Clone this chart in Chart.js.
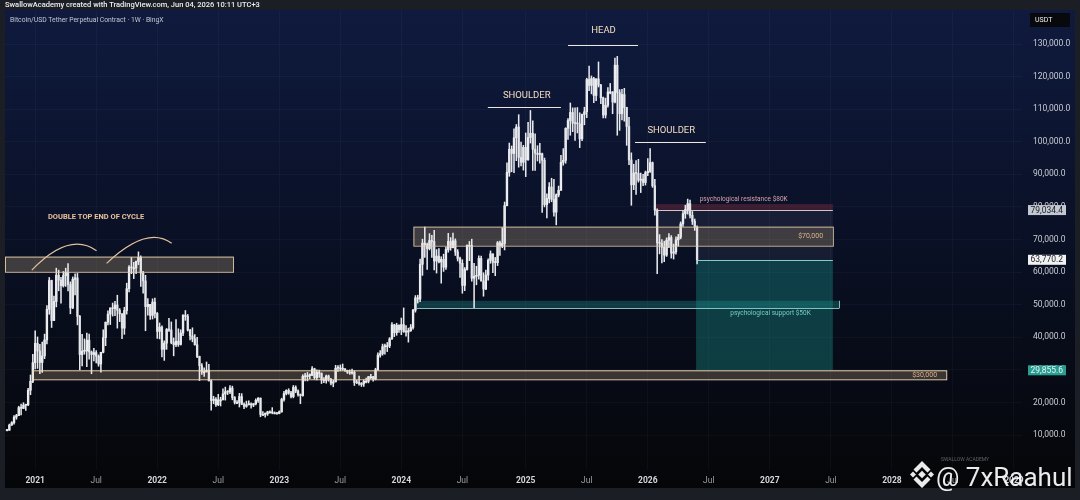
<!DOCTYPE html>
<html lang="en">
<head>
<meta charset="UTF-8">
<title>BTCUSDT Perpetual 1W - Head and Shoulders</title>
<script src="https://cdn.jsdelivr.net/npm/chart.js"></script>
<style>
    html, body { margin: 0; padding: 0; background: #1c1e25; overflow: hidden; }
    #wrap { width: 1080px; height: 500px; }
</style>
</head>
<body>
<div id="wrap"><canvas id="btcChart" width="1080" height="500"></canvas></div>
<script>
// Weekly candles (k USDT), first bar = week of 2020-10-12. Open of a bar = previous close.
const firstWeek = '2020-10-12';
const firstOpen = 11.36;

const weeklyClose = [
    11.50, 13.03, 13.76, 15.48, 15.96, 18.41, 18.18, 19.15, 19.27, 23.74, 26.49, 32.20,
    // 2021
    38.15, 35.79, 32.26, 34.26, 39.19, 48.58, 57.41, 45.14, 50.97, 59.03, 57.55, 55.84, 58.92,
    59.97, 56.15, 49.00, 57.80, 58.20, 46.40, 34.70, 35.70, 35.80, 39.10, 35.50, 34.70, 35.30,
    34.20, 31.80, 35.40, 39.90, 44.60, 47.10, 49.00, 48.80, 49.90, 48.30, 47.20, 42.80, 48.20,
    54.90, 61.50, 61.30, 61.30, 63.30, 64.50, 59.70, 57.30, 49.40, 50.10, 46.70, 50.80, 47.30,
    // 2022
    41.80, 43.10, 36.30, 38.20, 42.40, 42.20, 38.40, 37.70, 38.80, 37.80, 41.30, 46.80, 46.40,
    42.20, 40.40, 39.50, 37.70, 34.10, 31.30, 29.40, 29.40, 29.90, 26.60, 20.60, 21.00, 19.30,
    20.80, 20.80, 22.60, 23.30, 23.20, 24.40, 21.50, 20.00, 20.00, 21.80, 19.40, 18.80, 19.30,
    19.40, 19.20, 19.60, 20.60, 21.30, 16.30, 16.30, 16.50, 17.10, 17.10, 16.80, 16.80, 16.60,
    // 2023
    17.10, 20.90, 22.70, 23.70, 22.90, 21.80, 24.60, 23.50, 22.40, 22.10, 28.00, 27.90, 28.20,
    28.30, 30.30, 27.60, 29.20, 28.90, 26.90, 26.70, 28.10, 27.10, 25.90, 26.30, 30.50, 30.60,
    30.20, 30.30, 29.80, 29.30, 29.00, 29.30, 26.10, 26.00, 25.80, 25.80, 26.50, 26.50, 27.90,
    27.90, 27.20, 30.00, 34.50, 35.00, 37.10, 37.40, 37.40, 39.50, 43.80, 41.40, 43.70, 42.30,
    // 2024
    43.90, 41.70, 41.60, 42.00, 43.00, 48.30, 52.10, 51.70, 62.40, 68.90, 68.40, 67.20, 69.70,
    69.40, 63.40, 64.90, 63.10, 63.90, 61.50, 66.90, 69.40, 67.50, 69.60, 66.20, 64.20, 62.70,
    55.90, 60.80, 68.20, 68.20, 58.10, 58.70, 59.00, 64.20, 57.30, 54.80, 59.10, 63.60, 65.60,
    63.00, 62.90, 69.00, 68.00, 68.80, 80.40, 90.60, 97.70, 96.40, 101.20, 104.50, 95.20, 93.70, 98.30,
    // 2025
    94.50, 101.30, 102.60, 97.70, 96.50, 96.10, 96.30, 94.30, 80.70, 82.60, 86.10, 82.30, 78.40,
    83.70, 85.10, 93.70, 94.30, 104.10, 106.50, 109.00, 105.70, 105.60, 105.50, 100.90, 108.40, 109.20,
    119.10, 117.30, 119.40, 114.20, 119.30, 117.40, 113.50, 108.20, 111.20, 115.30, 115.30, 112.20, 123.50,
    115.10, 108.60, 114.50, 110.50, 104.70, 94.40, 86.80, 90.40, 90.30, 88.20, 88.50, 87.50, 90.50,
    // 2026
    90.90, 93.60, 86.50, 79.03, 69.00, 68.80, 67.60, 65.20, 69.80, 70.60, 65.80, 66.20, 69.90,
    70.70, 74.80, 77.90, 79.20, 81.00, 77.40, 75.60, 73.80, 63.77
];

const weeklyHigh = [
    11.72, 13.35, 14.09, 15.96, 16.34, 18.82, 19.50, 19.92, 19.42, 24.30, 28.42, 34.78,
    // 2021
    41.95, 40.10, 37.85, 38.53, 40.96, 49.71, 58.35, 57.53, 52.64, 61.20, 60.60, 58.40, 60.18,
    61.20, 62.60, 57.00, 58.50, 59.50, 59.60, 46.70, 40.90, 39.50, 41.30, 41.00, 35.80, 36.60,
    35.90, 34.60, 35.40, 42.30, 44.70, 48.10, 49.00, 50.50, 51.00, 52.90, 48.80, 47.30, 49.20,
    56.60, 62.00, 64.50, 63.00, 63.40, 66.20, 65.00, 60.20, 59.00, 51.90, 50.10, 51.80, 52.00,
    // 2022
    47.60, 44.40, 43.50, 38.90, 42.70, 45.80, 44.70, 39.80, 45.40, 42.60, 42.30, 46.90, 48.20,
    47.00, 42.40, 42.90, 40.80, 40.00, 34.20, 31.90, 30.60, 32.40, 31.70, 26.90, 21.90, 21.50,
    22.50, 21.60, 24.20, 24.70, 23.60, 25.20, 25.00, 21.80, 20.60, 22.80, 22.70, 19.90, 20.40,
    20.50, 19.90, 19.70, 21.10, 21.50, 21.40, 17.20, 16.80, 17.30, 17.40, 18.40, 17.10, 16.90,
    // 2023
    17.40, 21.30, 23.40, 23.90, 24.20, 23.40, 25.20, 25.10, 23.90, 22.60, 28.50, 28.90, 29.20,
    28.80, 31.00, 30.50, 30.00, 29.90, 29.10, 27.60, 28.40, 28.40, 27.40, 26.80, 31.40, 31.30,
    31.50, 31.80, 30.40, 29.90, 30.00, 30.20, 29.70, 26.80, 28.10, 26.10, 26.90, 27.50, 28.00,
    28.60, 28.00, 30.50, 35.20, 35.90, 37.90, 37.90, 38.40, 39.90, 44.50, 44.00, 44.30, 43.80,
    // 2024
    45.90, 49.00, 43.60, 42.80, 43.90, 48.60, 52.80, 52.90, 64.00, 70.10, 73.80, 68.90, 71.80,
    71.30, 72.80, 66.90, 67.20, 64.70, 65.50, 67.70, 71.90, 70.60, 72.00, 70.20, 66.90, 64.60,
    63.80, 61.40, 68.40, 69.40, 70.10, 62.70, 61.80, 65.00, 64.90, 59.80, 60.60, 64.10, 66.50,
    65.60, 64.50, 69.40, 69.50, 73.60, 81.50, 93.50, 99.60, 98.70, 104.00, 105.30, 108.30, 99.90, 98.90,
    // 2025
    102.70, 106.00, 109.60, 106.40, 102.40, 98.80, 99.50, 96.50, 95.00, 84.00, 87.50, 88.80, 88.50,
    84.00, 86.40, 95.80, 97.90, 104.30, 107.10, 111.90, 110.40, 110.40, 110.50, 108.90, 108.50, 110.60,
    119.50, 123.20, 120.20, 119.80, 119.30, 124.50, 117.60, 113.70, 113.40, 116.60, 117.90, 115.40, 125.70,
    126.20, 116.00, 116.10, 116.40, 110.60, 107.50, 96.60, 93.10, 94.20, 94.60, 90.40, 90.00, 91.00,
    // 2026
    94.80, 97.90, 93.80, 88.50, 79.40, 71.50, 70.00, 69.50, 70.50, 71.80, 71.20, 68.60, 70.80,
    71.60, 75.40, 78.80, 80.50, 82.40, 82.10, 78.60, 76.30, 74.20
];

const weeklyLow = [
    11.22, 11.42, 12.97, 13.29, 14.84, 15.95, 16.20, 18.10, 17.57, 19.02, 22.36, 26.06,
    // 2021
    30.26, 30.42, 28.85, 29.24, 33.42, 37.99, 47.05, 43.00, 45.08, 49.32, 54.26, 50.43, 55.40,
    55.60, 54.20, 47.20, 48.80, 53.00, 43.80, 30.00, 31.20, 34.80, 31.00, 33.30, 28.80, 32.70,
    32.10, 31.10, 29.30, 35.20, 37.40, 43.80, 43.90, 46.50, 46.60, 42.80, 44.80, 39.60, 40.90,
    47.10, 53.90, 59.50, 58.00, 59.50, 62.30, 55.60, 53.50, 42.00, 46.80, 45.50, 45.60, 45.90,
    // 2022
    39.65, 39.50, 34.00, 32.90, 36.30, 41.80, 38.00, 34.30, 37.10, 37.20, 37.60, 40.50, 45.20,
    41.90, 39.20, 38.60, 37.60, 33.70, 26.70, 28.60, 28.00, 29.30, 26.60, 17.60, 19.60, 18.80,
    19.00, 18.90, 20.80, 20.70, 22.40, 22.70, 20.80, 19.50, 19.60, 18.60, 19.30, 18.10, 18.50,
    19.20, 18.20, 18.70, 19.20, 20.00, 15.60, 16.20, 15.50, 16.00, 16.70, 16.50, 16.50, 16.30,
    // 2023
    16.50, 17.00, 20.40, 22.30, 22.50, 21.40, 21.40, 23.00, 21.90, 19.60, 21.90, 26.60, 26.60,
    27.30, 28.30, 27.10, 26.90, 27.70, 25.80, 26.10, 25.90, 26.50, 25.40, 24.80, 26.30, 29.50,
    29.70, 29.90, 29.50, 28.90, 28.60, 28.70, 25.20, 25.80, 25.30, 24.90, 24.90, 26.00, 26.00,
    27.20, 26.50, 26.90, 29.90, 33.90, 34.50, 34.80, 35.60, 36.80, 39.30, 40.20, 40.60, 41.50,
    // 2024
    40.80, 41.50, 40.30, 38.50, 41.80, 42.50, 47.70, 50.50, 50.90, 59.00, 64.50, 60.80, 66.80,
    64.50, 60.70, 59.70, 62.80, 56.60, 60.20, 60.80, 66.10, 66.70, 67.40, 65.10, 63.40, 58.40,
    53.50, 54.30, 60.60, 63.50, 57.20, 49.00, 56.10, 57.80, 57.20, 52.60, 54.60, 57.50, 62.70,
    59.80, 58.90, 62.00, 65.10, 67.50, 66.80, 80.30, 89.40, 90.80, 90.50, 94.20, 92.20, 92.60, 91.30,
    // 2025
    89.30, 94.30, 99.60, 91.20, 91.20, 94.10, 93.40, 78.30, 80.00, 76.60, 81.20, 81.60, 77.20,
    74.50, 83.10, 85.10, 92.80, 93.40, 100.70, 102.00, 103.10, 100.40, 102.70, 98.20, 100.30, 105.20,
    107.40, 115.70, 114.70, 112.00, 112.60, 116.80, 111.70, 107.30, 107.30, 110.60, 114.70, 108.60, 111.90,
    102.00, 103.50, 106.70, 106.30, 98.90, 93.00, 80.50, 85.30, 83.80, 87.60, 84.40, 86.50, 86.70,
    // 2026
    89.60, 90.60, 86.00, 77.50, 59.50, 65.60, 62.80, 63.20, 64.80, 67.50, 64.30, 64.00, 65.50,
    68.00, 70.20, 74.00, 76.50, 77.80, 76.60, 74.60, 72.80, 62.50
];

const priceTicks = [10000, 20000, 30000, 40000, 50000, 60000, 70000, 80000, 90000, 100000, 110000, 120000, 130000];
const timeTickDates = ['2021-01-04', '2021-07-05', '2022-01-03', '2022-07-04', '2023-01-02', '2023-07-03',
    '2024-01-01', '2024-07-01', '2025-01-06', '2025-07-07', '2026-01-05', '2026-07-06',
    '2027-01-04', '2027-07-05', '2028-01-03', '2028-07-03', '2029-01-01'];
const timeTickLabels = ['2021', 'Jul', '2022', 'Jul', '2023', 'Jul', '2024', 'Jul', '2025', 'Jul',
    '2026', 'Jul', '2027', 'Jul', '2028', 'Jul', '2029'];

// levels of the short setup
const stopPrice = 79034.4;
const lastPrice = 63770.2;
const targetPrice = 29855.6;

// ---- drawings (dates / prices, mapped through the chart scales) ----
const zones = [
    { from: '2020-10-06', to: '2022-08-17', lo: 60100, hi: 64750, fill: 'rgba(190,165,130,0.30)', edge: 'rgba(228,205,172,0.9)' },
    { from: '2020-12-27', to: '2028-06-13', lo: 27100, hi: targetPrice, fill: 'rgba(190,160,125,0.28)', edge: 'rgba(238,214,184,0.95)' },
    { from: '2024-02-06', to: '2027-07-11', lo: 68100, hi: 73950, fill: 'rgba(190,165,130,0.30)', edge: 'rgba(228,205,172,0.85)' },
    { from: '2026-01-27', to: '2027-07-11', lo: stopPrice, hi: 80900, fill: 'rgba(120,45,62,0.45)' },
    { from: '2026-01-27', to: '2027-07-11', lo: 73950, hi: stopPrice, fill: 'rgba(150,150,175,0.10)' },
    { from: '2026-05-29', to: '2027-07-11', lo: lastPrice, hi: 68100, fill: 'rgba(150,150,175,0.10)' },
    { from: '2026-05-29', to: '2027-07-11', lo: targetPrice, hi: lastPrice, fill: 'rgba(24,150,140,0.36)' },
    { from: '2024-02-16', to: '2027-07-30', lo: 48900, hi: 51200, fill: 'rgba(30,150,145,0.33)' }
];

const hLines = [
    { from: '2026-01-27', to: '2027-07-11', v: stopPrice, color: 'rgba(230,214,220,0.9)' },
    { from: '2026-05-29', to: '2027-07-11', v: lastPrice, color: 'rgba(150,215,215,0.9)' },
    { from: '2024-02-16', to: '2027-07-30', v: 48900, color: 'rgba(150,215,210,0.85)' },
    { from: '2024-09-15', to: '2025-04-21', v: 110570, color: '#ece7e1' },
    { from: '2025-05-12', to: '2025-12-07', v: 129700, color: '#ece7e1' },
    { from: '2025-11-28', to: '2026-06-27', v: 99830, color: '#ece7e1' }
];

const arcs = [
    [['2020-12-25', 60580], ['2021-04-08', 68070], ['2021-07-06', 66560]],
    [['2021-08-05', 62690], ['2021-11-22', 70150], ['2022-02-15', 68830]]
];

const notes = [
    { text: 'DOUBLE TOP END OF CYCLE', at: '2021-02-11', v: 76750, align: 'left', font: 'bold 7.5px Roboto', color: '#e8c29b' },
    { text: '$30,000', at: '2028-05-17', v: 28450, align: 'right', font: '7px Roboto', color: '#dcb48a' },
    { text: '$70,000', at: '2027-06-12', v: 71100, align: 'right', font: '7px Roboto', color: '#dcb48a' },
    { text: 'psychological resistance $80K', at: '2026-10-18', v: 82400, align: 'center', font: '6.5px Roboto', color: '#dba0a8' },
    { text: 'psychological support $50K', at: '2027-01-06', v: 47350, align: 'center', font: '6.5px Roboto', color: '#74cbc4' },
    { text: 'SHOULDER', at: '2025-01-09', v: 114200, align: 'center', font: '9.5px Roboto', color: '#f2dcc2' },
    { text: 'HEAD', at: '2025-08-26', v: 134000, align: 'center', font: '9.5px Roboto', color: '#f2dcc2' },
    { text: 'SHOULDER', at: '2026-03-16', v: 103450, align: 'center', font: '9.5px Roboto', color: '#f2dcc2' }
];

const priceTags = [
    { v: stopPrice, bg: '#c3c7cf', fg: '#1a1d24' },
    { v: lastPrice, bg: '#f1f1f1', fg: '#1a1d24' },
    { v: targetPrice, bg: '#2a9d90', fg: '#dff7f3' }
];

const t0 = Date.parse(firstWeek);
const dayOf = s => (Date.parse(s) - t0) / 86400000;
const fmtPrice = v => v.toLocaleString('en-US', { minimumFractionDigits: 1, maximumFractionDigits: 1 });

// build candles
const wickData = [], bodyData = [], bodyColors = [];
weeklyClose.forEach((c, i) => {
    const o = i ? weeklyClose[i - 1] : firstOpen;
    wickData.push({ x: i * 7, y: [weeklyLow[i] * 1000, weeklyHigh[i] * 1000] });
    bodyData.push({ x: i * 7, y: [o * 1000, c * 1000] });
    bodyColors.push(c >= o ? '#ffffff' : '#cfd2d8');
});

const backdrop = {
    id: 'backdrop',
    beforeDraw(chart) {
        const { ctx, width, height } = chart;
        ctx.save();
        ctx.fillStyle = '#1c1e25';
        ctx.fillRect(0, 0, width, height);
        const g = ctx.createLinearGradient(0, 10, 0, 488);
        g.addColorStop(0, '#0f1a3e');
        g.addColorStop(0.45, '#0a1127');
        g.addColorStop(1, '#050608');
        ctx.fillStyle = g;
        ctx.fillRect(5, 10, 1070, 478);

        ctx.textBaseline = 'middle';
        ctx.fillStyle = '#eceef2';
        ctx.font = '500 7.5px Roboto';
        ctx.fillText('SwallowAcademy created with TradingView.com, Jun 04, 2026 10:11 UTC+3', 5, 5);
        ctx.fillStyle = '#c3c7d0';
        ctx.font = '6.8px Roboto';
        ctx.fillText('Bitcoin/USD Tether Perpetual Contract · 1W · BingX', 10, 20);
        ctx.restore();
    }
};

const drawings = {
    id: 'drawings',
    beforeDatasetsDraw(chart) {
        const { ctx, chartArea: a, scales: { x, y } } = chart;
        ctx.save();
        ctx.beginPath();
        ctx.rect(a.left, a.top, a.right - a.left, a.bottom - a.top);
        ctx.clip();
        zones.forEach(z => {
            const x1 = x.getPixelForValue(dayOf(z.from)), x2 = x.getPixelForValue(dayOf(z.to));
            const y1 = y.getPixelForValue(z.hi), y2 = y.getPixelForValue(z.lo);
            ctx.fillStyle = z.fill;
            ctx.fillRect(x1, y1, x2 - x1, y2 - y1);
        });
        ctx.restore();
    },
    afterDatasetsDraw(chart) {
        const { ctx, chartArea: a, scales: { x, y } } = chart;
        const px = d => x.getPixelForValue(dayOf(d));
        ctx.save();
        ctx.beginPath();
        ctx.rect(a.left, a.top, a.right - a.left, a.bottom - a.top);
        ctx.clip();

        ctx.lineWidth = 1;
        zones.filter(z => z.edge).forEach(z => {
            const x1 = px(z.from), x2 = px(z.to);
            const y1 = y.getPixelForValue(z.hi), y2 = y.getPixelForValue(z.lo);
            ctx.strokeStyle = z.edge;
            ctx.strokeRect(x1 + 0.5, y1 + 0.5, x2 - x1, y2 - y1);
        });

        hLines.forEach(l => {
            const yy = Math.round(y.getPixelForValue(l.v)) + 0.5;
            ctx.strokeStyle = l.color;
            ctx.beginPath();
            ctx.moveTo(px(l.from), yy);
            ctx.lineTo(px(l.to), yy);
            ctx.stroke();
        });
        // right edge of the support band
        const sx = Math.round(px('2027-07-30')) + 0.5;
        ctx.strokeStyle = 'rgba(150,215,210,0.85)';
        ctx.beginPath();
        ctx.moveTo(sx, y.getPixelForValue(51200));
        ctx.lineTo(sx, y.getPixelForValue(48900));
        ctx.stroke();

        ctx.strokeStyle = '#e2c29c';
        ctx.lineWidth = 1.2;
        arcs.forEach(([p0, p1, p2]) => {
            const P = p => [px(p[0]), y.getPixelForValue(p[1])];
            const [ax, ay] = P(p0), [mx, my] = P(p1), [bx, by] = P(p2);
            ctx.beginPath();
            ctx.moveTo(ax, ay);
            ctx.quadraticCurveTo(2 * mx - (ax + bx) / 2, 2 * my - (ay + by) / 2, bx, by);
            ctx.stroke();
        });

        ctx.textBaseline = 'middle';
        notes.forEach(n => {
            ctx.font = n.font;
            ctx.fillStyle = n.color;
            ctx.textAlign = n.align;
            ctx.fillText(n.text, px(n.at), y.getPixelForValue(n.v));
        });
        ctx.restore();
    },
    afterDraw(chart) {
        const { ctx, scales: { y } } = chart;
        ctx.save();
        // currency box
        ctx.fillStyle = '#08090c';
        ctx.fillRect(1030, 13, 40, 14);
        ctx.fillStyle = '#f0f0f0';
        ctx.font = '7px Roboto';
        ctx.textBaseline = 'middle';
        ctx.fillText('USDT', 1035, 20.5);

        // price tags on the axis
        ctx.font = '8.5px Roboto';
        priceTags.forEach(t => {
            const yy = y.getPixelForValue(t.v);
            ctx.fillStyle = t.bg;
            ctx.fillRect(1028, yy - 5, 38, 10);
            ctx.fillStyle = t.fg;
            ctx.fillText(fmtPrice(t.v), 1030.5, yy + 0.5);
        });

        // watermark
        ctx.fillStyle = 'rgba(255,255,255,0.92)';
        const cx = 922, cy = 474.5;
        const diamond = (dx, dy, r) => {
            ctx.beginPath();
            ctx.moveTo(cx + dx, cy + dy - r);
            ctx.lineTo(cx + dx + r, cy + dy);
            ctx.lineTo(cx + dx, cy + dy + r);
            ctx.lineTo(cx + dx - r, cy + dy);
            ctx.closePath();
            ctx.fill();
        };
        diamond(0, 0, 3.8);
        diamond(-9, 0, 3);
        diamond(9, 0, 3);
        [-1, 1].forEach(s => {
            ctx.beginPath();
            ctx.moveTo(cx, cy + s * 13.5);
            ctx.lineTo(cx + 8.5, cy + s * 5);
            ctx.lineTo(cx + 5.5, cy + s * 2);
            ctx.lineTo(cx, cy + s * 7.5);
            ctx.lineTo(cx - 5.5, cy + s * 2);
            ctx.lineTo(cx - 8.5, cy + s * 5);
            ctx.closePath();
            ctx.fill();
        });
        ctx.font = '26px Roboto';
        ctx.textBaseline = 'alphabetic';
        ctx.fillText('@ 7xRaahul', 936, 486);
        ctx.fillStyle = 'rgba(200,200,205,0.45)';
        ctx.font = '5px Roboto';
        ctx.fillText('SWALLOW ACADEMY', 941, 461);
        ctx.restore();
    }
};

new Chart(document.getElementById('btcChart'), {
    type: 'bar',
    data: {
        datasets: [
            { data: wickData, backgroundColor: '#e6e8ec', barThickness: 0.9, borderWidth: 0 },
            { data: bodyData, backgroundColor: bodyColors, barThickness: 1.7, borderWidth: 0, minBarLength: 1 }
        ]
    },
    options: {
        responsive: false,
        animation: false,
        events: [],
        layout: { padding: { left: 5, top: 11, right: 3, bottom: 12 } },
        datasets: { bar: { grouped: false } },
        plugins: { legend: { display: false }, tooltip: { enabled: false } },
        scales: {
            x: {
                type: 'linear',
                min: -6,
                max: 3027,
                offset: false,
                border: { display: false },
                grid: { color: 'rgba(255,255,255,0.03)', drawTicks: false, offset: false },
                afterBuildTicks: s => { s.ticks = timeTickDates.map(d => ({ value: dayOf(d) })); },
                afterFit: s => { s.height = 18; s.paddingLeft = 0; s.paddingRight = 0; },
                ticks: {
                    autoSkip: false,
                    maxRotation: 0,
                    padding: 6,
                    callback: (v, i) => timeTickLabels[i],
                    color: c => timeTickLabels[c.index] === 'Jul' ? '#9a9ea8' : '#d4d7de',
                    font: c => ({ family: 'Roboto', size: 8.5, weight: timeTickLabels[c.index] === 'Jul' ? 'normal' : 'bold' })
                }
            },
            y: {
                position: 'right',
                min: -740,
                max: 140130,
                border: { display: false },
                grid: { color: 'rgba(255,255,255,0.03)', drawTicks: false },
                afterBuildTicks: s => { s.ticks = priceTicks.map(v => ({ value: v })); },
                afterFit: s => { s.width = 55; s.paddingTop = 0; s.paddingBottom = 0; },
                ticks: {
                    padding: 11,
                    color: '#c9ccd3',
                    font: { family: 'Roboto', size: 8.5 },
                    callback: v => fmtPrice(v)
                }
            }
        }
    },
    plugins: [backdrop, drawings]
});
</script>
</body>
</html>
